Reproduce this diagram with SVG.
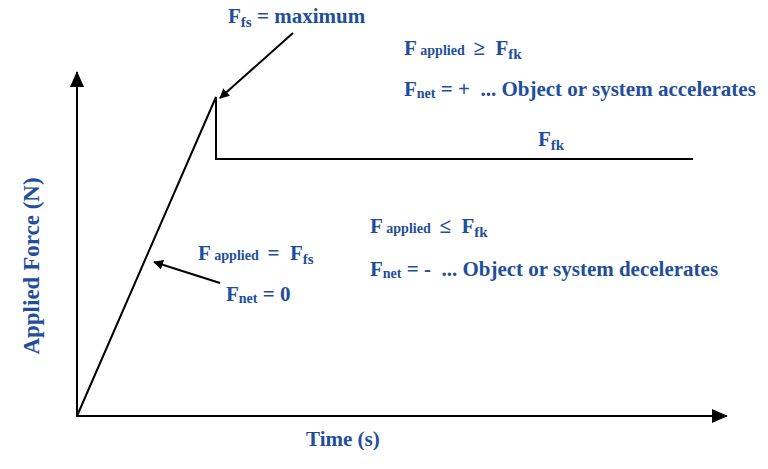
<svg xmlns="http://www.w3.org/2000/svg" width="768" height="469" viewBox="0 0 768 469">
<style>
.t{font-family:"Liberation Serif","Times New Roman",serif;font-weight:bold;fill:#1F4E9C;font-size:21px;white-space:pre}
.s{font-size:15px}
.ss{font-size:14px}
.ln{stroke:#000;stroke-width:2;fill:none}
</style>
<defs>
<marker id="ah" markerWidth="10" markerHeight="10" refX="9" refY="5" orient="auto" markerUnits="userSpaceOnUse"><path d="M0,0 L10,5 L0,10 z" fill="#000"/></marker>
<marker id="axh" markerWidth="16" markerHeight="14" refX="15" refY="7" orient="auto" markerUnits="userSpaceOnUse"><path d="M0,0 L16,7 L0,14 z" fill="#000"/></marker>
</defs>
<rect width="768" height="469" fill="#fff"/>
<g id="axes">
<line class="ln" x1="77" y1="416" x2="77" y2="72" marker-end="url(#axh)"/>
<line class="ln" x1="76" y1="416" x2="727" y2="416" marker-end="url(#axh)"/>
</g>
<g id="curve">
<polyline class="ln" points="77,416 216,97 216,159 693,159"/>
</g>
<g id="connectors">
<line class="ln" x1="293" y1="33" x2="220" y2="98" marker-end="url(#ah)"/>
<line class="ln" x1="220" y1="283" x2="154" y2="262" marker-end="url(#ah)"/>
</g>
<g id="label-max"><text class="t" x="228" y="23">F<tspan class="s" dy="4">fs</tspan><tspan dy="-4"> = maximum</tspan></text></g>
<g id="label-acc">
<text class="t" x="404" y="55">F<tspan class="ss"> applied </tspan> ≥  F<tspan class="s" dy="4">fk</tspan></text>
<text class="t" x="404" y="96">F<tspan class="ss" dy="2">net</tspan><tspan dy="-2"> = +  ... Object or system accelerates</tspan></text>
</g>
<g id="label-ffk"><text class="t" x="538" y="146">F<tspan class="s" dy="4">fk</tspan></text></g>
<g id="label-eq">
<text class="t" x="198" y="260">F<tspan class="ss"> applied </tspan> =  F<tspan class="s" dy="4">fs</tspan></text>
<text class="t" x="226" y="301">F<tspan class="ss" dy="2">net</tspan><tspan dy="-2"> = 0</tspan></text>
</g>
<g id="label-dec">
<text class="t" x="370" y="233">F<tspan class="ss"> applied </tspan> ≤  F<tspan class="s" dy="4">fk</tspan></text>
<text class="t" x="370" y="276">F<tspan class="ss" dy="2">net</tspan><tspan dy="-2"> = -  ... Object or system decelerates</tspan></text>
</g>
<g id="axis-labels">
<text class="t" x="306" y="446">Time (s)</text>
<text class="t" style="font-size:23px" transform="translate(39,266) rotate(-90)" text-anchor="middle">Applied Force (N)</text>
</g>
</svg>
